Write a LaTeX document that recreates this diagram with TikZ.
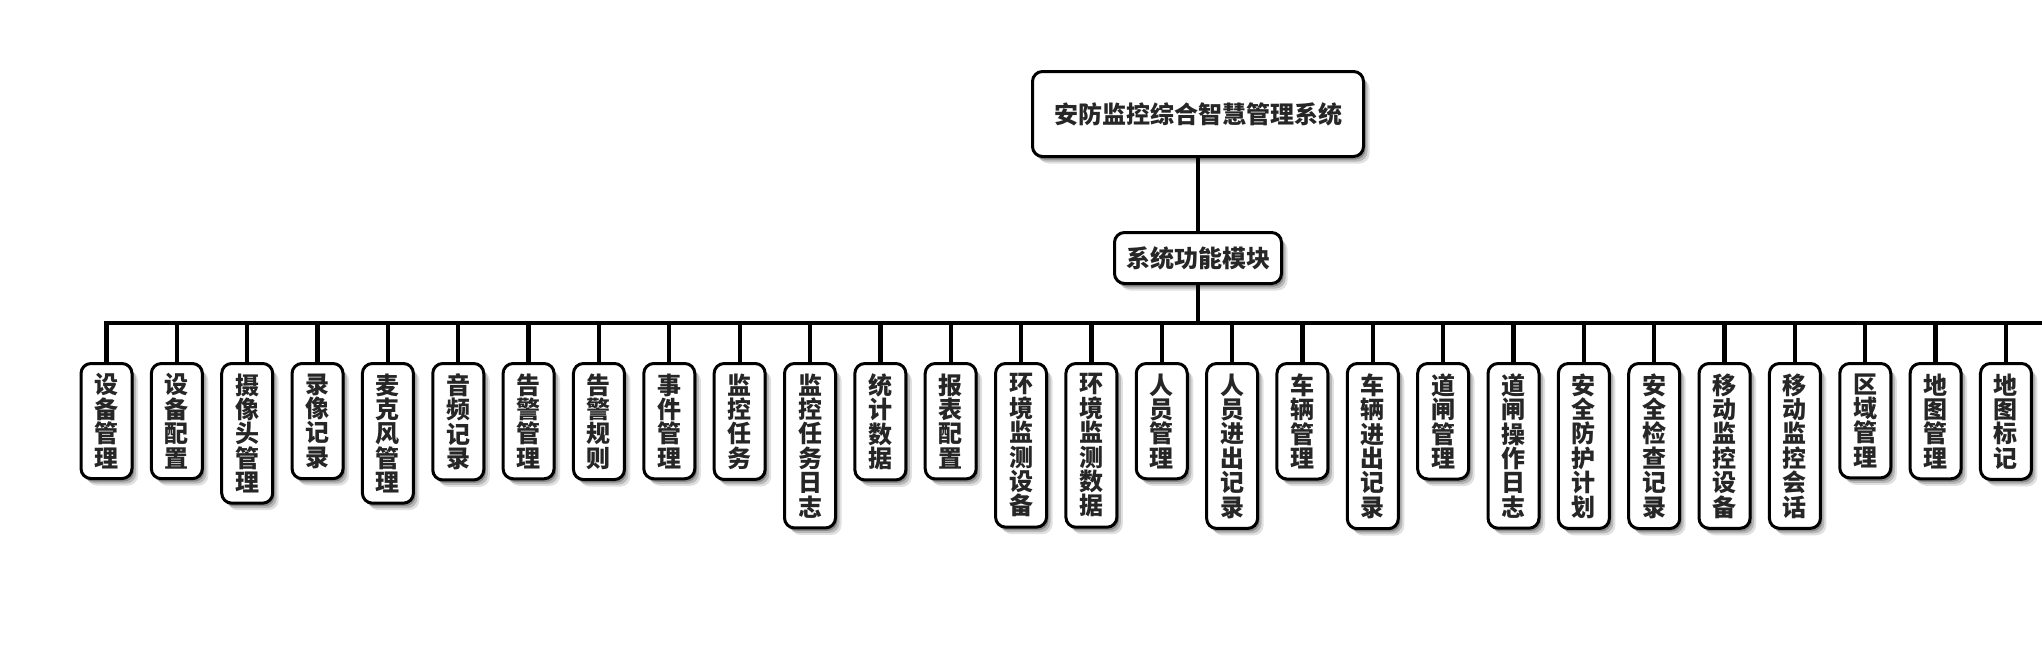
\documentclass[tikz,border=0pt]{standalone}
\usepackage{fontspec}
\setmainfont{Noto Sans CJK SC}
\usetikzlibrary{positioning}
\usetikzlibrary{shadows}

\begin{document}
\begin{tikzpicture}[
        font=\fontsize{24pt}{24.4pt}\selectfont\bfseries,
        node distance=19.35pt,
        box/.style={
            draw,
            line width=3pt,
            rounded corners=10pt,
            fill=white,
            text=black!85,
            align=center,
            outer sep=0pt,
            drop shadow={shadow xshift=6pt, shadow yshift=-7pt, fill=black, opacity=0.12},
            drop shadow={shadow xshift=4pt, shadow yshift=-5pt, fill=black, opacity=0.18},
            drop shadow={shadow xshift=2pt, shadow yshift=-3pt, fill=black, opacity=0.25}
        },
        topbox/.style={
            box,
            minimum width=331pt,
            minimum height=85pt
        },
        midbox/.style={
            box,
            minimum width=167pt,
            minimum height=51pt
        },
        leaf/.style={
            box,
            minimum width=51pt,
            inner xsep=4pt,
            inner ysep=10pt
        },
        link/.style={line width=4.3pt}
    ]
        \useasboundingbox (0,0) rectangle (2042pt,-656pt);
        \coordinate (edge) at (2042pt,0);

        \node[topbox] (root) at (1198pt,-114pt) {安防监控综合智慧管理系统};
        \node[midbox, below=76pt of root] (modules) {系统功能模块};
        \coordinate[below=39.5pt of modules.south] (hub);

        \node[leaf, below left=40.5pt and 1091.5pt of hub, anchor=north] (l1) {设\\备\\管\\理};
        \node[leaf, right=of l1.north east, anchor=north west] (l2) {设\\备\\配\\置};
        \node[leaf, right=of l2.north east, anchor=north west] (l3) {摄\\像\\头\\管\\理};
        \node[leaf, right=of l3.north east, anchor=north west] (l4) {录\\像\\记\\录};
        \node[leaf, right=of l4.north east, anchor=north west] (l5) {麦\\克\\风\\管\\理};
        \node[leaf, right=of l5.north east, anchor=north west] (l6) {音\\频\\记\\录};
        \node[leaf, right=of l6.north east, anchor=north west] (l7) {告\\警\\管\\理};
        \node[leaf, right=of l7.north east, anchor=north west] (l8) {告\\警\\规\\则};
        \node[leaf, right=of l8.north east, anchor=north west] (l9) {事\\件\\管\\理};
        \node[leaf, right=of l9.north east, anchor=north west] (l10) {监\\控\\任\\务};
        \node[leaf, right=of l10.north east, anchor=north west] (l11) {监\\控\\任\\务\\日\\志};
        \node[leaf, right=of l11.north east, anchor=north west] (l12) {统\\计\\数\\据};
        \node[leaf, right=of l12.north east, anchor=north west] (l13) {报\\表\\配\\置};
        \node[leaf, right=of l13.north east, anchor=north west] (l14) {环\\境\\监\\测\\设\\备};
        \node[leaf, right=of l14.north east, anchor=north west] (l15) {环\\境\\监\\测\\数\\据};
        \node[leaf, right=of l15.north east, anchor=north west] (l16) {人\\员\\管\\理};
        \node[leaf, right=of l16.north east, anchor=north west] (l17) {人\\员\\进\\出\\记\\录};
        \node[leaf, right=of l17.north east, anchor=north west] (l18) {车\\辆\\管\\理};
        \node[leaf, right=of l18.north east, anchor=north west] (l19) {车\\辆\\进\\出\\记\\录};
        \node[leaf, right=of l19.north east, anchor=north west] (l20) {道\\闸\\管\\理};
        \node[leaf, right=of l20.north east, anchor=north west] (l21) {道\\闸\\操\\作\\日\\志};
        \node[leaf, right=of l21.north east, anchor=north west] (l22) {安\\全\\防\\护\\计\\划};
        \node[leaf, right=of l22.north east, anchor=north west] (l23) {安\\全\\检\\查\\记\\录};
        \node[leaf, right=of l23.north east, anchor=north west] (l24) {移\\动\\监\\控\\设\\备};
        \node[leaf, right=of l24.north east, anchor=north west] (l25) {移\\动\\监\\控\\会\\话};
        \node[leaf, right=of l25.north east, anchor=north west] (l26) {区\\域\\管\\理};
        \node[leaf, right=of l26.north east, anchor=north west] (l27) {地\\图\\管\\理};
        \node[leaf, right=of l27.north east, anchor=north west] (l28) {地\\图\\标\\记};

        \draw[link] (root) -- (modules);
        \draw[link] (modules) -- (hub);
        \draw[link] (hub) -- (hub -| edge);
        \draw[link] (hub) -| (l1);
        \draw[link] (hub) -| (l2);
        \draw[link] (hub) -| (l3);
        \draw[link] (hub) -| (l4);
        \draw[link] (hub) -| (l5);
        \draw[link] (hub) -| (l6);
        \draw[link] (hub) -| (l7);
        \draw[link] (hub) -| (l8);
        \draw[link] (hub) -| (l9);
        \draw[link] (hub) -| (l10);
        \draw[link] (hub) -| (l11);
        \draw[link] (hub) -| (l12);
        \draw[link] (hub) -| (l13);
        \draw[link] (hub) -| (l14);
        \draw[link] (hub) -| (l15);
        \draw[link] (hub) -| (l16);
        \draw[link] (hub) -| (l17);
        \draw[link] (hub) -| (l18);
        \draw[link] (hub) -| (l19);
        \draw[link] (hub) -| (l20);
        \draw[link] (hub) -| (l21);
        \draw[link] (hub) -| (l22);
        \draw[link] (hub) -| (l23);
        \draw[link] (hub) -| (l24);
        \draw[link] (hub) -| (l25);
        \draw[link] (hub) -| (l26);
        \draw[link] (hub) -| (l27);
        \draw[link] (hub) -| (l28);
    \end{tikzpicture}
\end{document}
